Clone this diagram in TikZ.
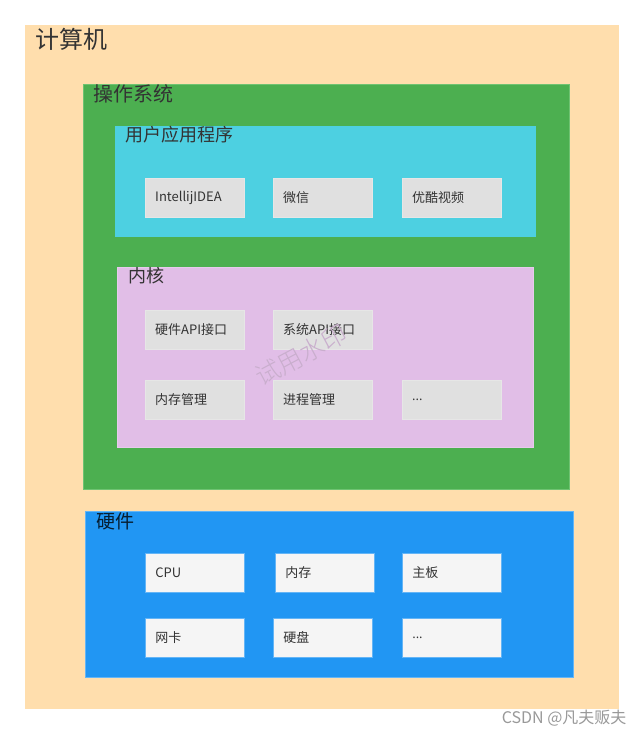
\documentclass[tikz,border=0pt]{standalone}
\usepackage{fontspec}
\setmainfont{Noto Sans CJK SC}
\newfontfamily\latinfont{Open Sans}
\newfontfamily\thinfont{Noto Sans CJK SC Light}
\definecolor{peach}{HTML}{FFDEAD}
\definecolor{osgreen}{HTML}{4CAF50}
\definecolor{osgreenb}{HTML}{6FC372}
\definecolor{appcyan}{HTML}{4DD0E1}
\definecolor{kpink}{HTML}{E1BEE7}
\definecolor{hwblue}{HTML}{2196F3}
\definecolor{hwblueb}{HTML}{64B5F6}
\definecolor{gbox}{HTML}{E0E0E0}
\definecolor{wbox}{HTML}{F5F5F5}
\definecolor{txt}{HTML}{333333}
\begin{document}
\begin{tikzpicture}[x={(1pt,0)},y={(0,-1pt)},
  title/.style={anchor=north west, inner sep=0pt, text=txt},
  itembox/.style={anchor=north west, minimum height=39pt, text width=79pt, inner xsep=10pt, inner ysep=0pt, align=left, font=\fontsize{13}{15}\selectfont, text=txt},
  gitem/.style={itembox, fill=gbox, draw=gbox!80!white},
  witem/.style={itembox, fill=wbox, draw=hwblueb, line width=0.6pt}]
\useasboundingbox (0,0) rectangle (644,735);
\fill[white] (0,0) rectangle (644,735);
% computer
\fill[peach] (25,25) rectangle (619,709);
\node[title, font=\fontsize{24}{26}\selectfont] (tcomp) at (35,28) {计算机};
% OS
\fill[osgreen, draw=osgreenb, line width=0.8pt] (83,84) rectangle (569,489);
\node[title, font=\fontsize{20}{22}\selectfont] (tos) at (93,84) {操作系统};
% user apps
\fill[appcyan] (115,126) rectangle (536,237);
\node[title, font=\fontsize{18}{20}\selectfont] (tapp) at (125,126) {用户应用程序};
\node[gitem] (idea) at (145,178) {IntellijIDEA};
\node[gitem] (wx) at (273,178) {微信};
\node[gitem] (yk) at (402,178) {优酷视频};
% kernel
\fill[kpink, draw=kpink!80!white, line width=0.6pt] (117,267) rectangle (533,447);
\node[title, font=\fontsize{18}{20}\selectfont] (tker) at (128,267) {内核};
\node[gitem] (hwapi) at (145,310) {硬件API接口};
\node[gitem] (sysapi) at (273,310) {系统API接口};
\node[gitem] (mem) at (145,380) {内存管理};
\node[gitem] (proc) at (273,380) {进程管理};
\node[gitem] (kdots) at (402,380) {\latinfont ...};
\node[rotate=28, text=kpink!75!gray, font=\thinfont\fontsize{25}{27}\selectfont] (wm) at (301,355) {试用水印};
% hardware
\fill[hwblue, draw=hwblueb, line width=0.6pt] (85,511) rectangle (573,677);
\node[title, font=\fontsize{19}{21}\selectfont, text=black!80!hwblue] (thw) at (96,512) {硬件};
\node[witem] (cpu) at (145,553) {CPU};
\node[witem] (ram) at (275,553) {内存};
\node[witem] (mb) at (402,553) {主板};
\node[witem] (nic) at (145,618) {网卡};
\node[witem] (disk) at (273,618) {硬盘};
\node[witem] (hdots) at (402,618) {\latinfont ...};
% CSDN watermark
\node[anchor=east, text=black!40, font=\fontsize{16}{18}\selectfont] (csdn) at (630,718) {CSDN @凡夫贩夫};
\end{tikzpicture}
\end{document}
